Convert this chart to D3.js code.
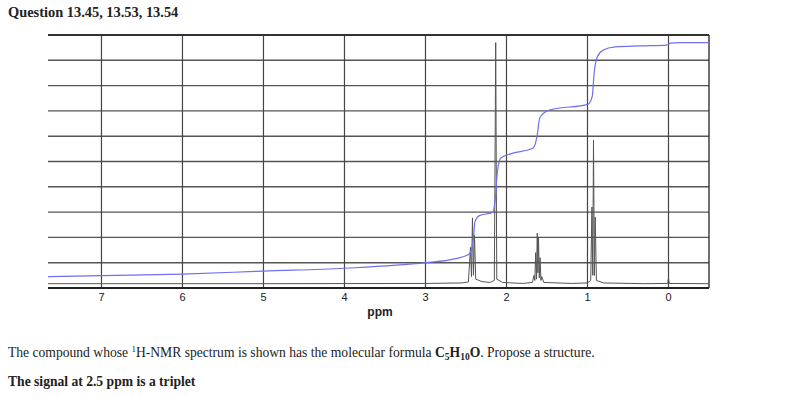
<!DOCTYPE html>
<html>
<head>
<meta charset="utf-8">
<script src="https://cdn.jsdelivr.net/npm/d3@7"></script>
<style>
  body { margin: 0; background: #fff; }
  svg { display: block; }
</style>
</head>
<body>
<svg id="chart" width="796" height="399"></svg>
<script>
// ppm tick labels along the bottom
const ppmTicks = [7, 6, 5, 4, 3, 2, 1, 0]
// horizontal grid rows (in grid units, axis = 0)
const gridRows = [1, 2, 3, 4, 5, 6, 7, 8, 9, 10]

// spectrum trace: [ppm, intensity in grid units]
const spectrum = [
  [7.66, 0.17], [5.0, 0.17], [3.0, 0.18], [2.55, 0.2], [2.47, 0.24],
  [2.445, 1.6], [2.432, 0.45], [2.42, 2.77], [2.408, 0.5], [2.395, 2.1],
  [2.38, 0.35], [2.3, 0.25], [2.2, 0.22], [2.15, 0.3], [2.133, 9.7],
  [2.12, 0.35], [2.05, 0.22], [1.8, 0.18], [1.68, 0.22],
  [1.66, 0.5], [1.65, 0.3], [1.64, 1.4], [1.63, 0.35], [1.62, 2.17],
  [1.612, 0.6], [1.605, 2.0], [1.595, 0.4], [1.585, 1.2], [1.575, 0.3],
  [1.565, 0.45], [1.54, 0.22], [1.2, 0.18], [1.0, 0.2], [0.96, 0.3],
  [0.945, 3.2], [0.935, 0.5], [0.926, 5.85], [0.915, 0.5], [0.905, 2.8],
  [0.89, 0.3], [0.8, 0.2], [0.3, 0.17], [0.01, 0.18], [0.0, 0.4],
  [-0.01, 0.18], [-0.5, 0.17]
]

// integral curve: [ppm, height in grid units]
const integral = [
  [7.66, 0.45], [7.0, 0.49], [6.0, 0.55], [5.0, 0.67], [4.0, 0.78],
  [3.0, 1.0], [2.64, 1.15], [2.46, 1.34], [2.41, 1.9], [2.39, 2.6],
  [2.34, 2.85], [2.17, 3.0], [2.14, 3.48], [2.11, 4.66], [2.07, 5.14],
  [1.95, 5.3], [1.67, 5.53], [1.62, 6.05], [1.59, 6.72], [1.52, 6.96],
  [1.46, 7.04], [0.99, 7.27], [0.94, 7.59], [0.92, 8.42], [0.88, 9.13],
  [0.81, 9.4], [0.66, 9.53], [0.35, 9.57], [0.02, 9.6], [-0.02, 9.68],
  [-0.14, 9.7], [-0.5, 9.7]
]

const svg = d3.select('#chart')

const plot = {left: 48, right: 709, top: 35, bottom: 288}

const x = d3.scaleLinear()
  .domain([7.66, -0.5])
  .range([plot.left, plot.right])

const y = d3.scaleLinear()
  .domain([0, 10])
  .range([plot.bottom, plot.top])

// title
svg.append('text')
  .attr('x', 8)
  .attr('y', 17)
  .style('font-family', '"Liberation Serif", serif')
  .style('font-weight', 'bold')
  .style('font-size', '14.4px')
  .style('fill', '#222')
  .text('Question 13.45, 13.53, 13.54')

// grid
const grid = svg.append('g').classed('grid', true)

grid.selectAll('line.row')
  .data(gridRows.slice(0, -1))
  .enter().append('line')
  .classed('row', true)
  .attr('x1', plot.left)
  .attr('x2', plot.right)
  .attr('y1', d => y(d))
  .attr('y2', d => y(d))
  .style('stroke', '#555')
  .style('stroke-width', 1.4)

grid.selectAll('line.col')
  .data(ppmTicks)
  .enter().append('line')
  .classed('col', true)
  .attr('x1', d => x(d))
  .attr('x2', d => x(d))
  .attr('y1', y(10))
  .attr('y2', y(0))
  .style('stroke', '#444')
  .style('stroke-width', 1.2)

// top line, right border, bottom axis line
grid.append('line')
  .attr('x1', plot.left).attr('x2', plot.right)
  .attr('y1', y(10)).attr('y2', y(10))
  .style('stroke', '#333').style('stroke-width', 2)

grid.append('line')
  .attr('x1', x(-0.5)).attr('x2', x(-0.5))
  .attr('y1', y(10)).attr('y2', y(0))
  .style('stroke', '#333').style('stroke-width', 1.4)

grid.append('line')
  .attr('x1', plot.left).attr('x2', plot.right)
  .attr('y1', y(0)).attr('y2', y(0))
  .style('stroke', '#222').style('stroke-width', 2)

// tick labels
svg.append('g')
  .selectAll('text')
  .data(ppmTicks)
  .enter().append('text')
  .attr('x', d => x(d))
  .attr('y', 301)
  .attr('text-anchor', 'middle')
  .style('font-family', '"Liberation Sans", Arial, sans-serif')
  .style('font-size', '11px')
  .style('fill', '#222')
  .text(d => d)

svg.append('text')
  .attr('x', 380)
  .attr('y', 316)
  .attr('text-anchor', 'middle')
  .style('font-family', '"Liberation Sans", Arial, sans-serif')
  .style('font-weight', 'bold')
  .style('font-size', '12px')
  .style('fill', '#222')
  .text('ppm')

// spectrum trace
const line = d3.line()
  .x(d => x(d[0]))
  .y(d => y(d[1]))

svg.append('path')
  .datum(spectrum)
  .attr('d', line)
  .style('fill', 'none')
  .style('stroke', '#555')
  .style('stroke-width', 1)

// integral curve
svg.append('path')
  .datum(integral)
  .attr('d', line.curve(d3.curveMonotoneX))
  .style('fill', 'none')
  .style('stroke', '#6f6ff0')
  .style('stroke-width', 1.2)

// question text below the chart
const serif = '"Liberation Serif", "Times New Roman", serif'

const t1 = svg.append('text')
  .attr('x', 8)
  .attr('y', 357)
  .style('font-family', serif)
  .style('font-size', '13.6px')
  .style('fill', '#222')
t1.append('tspan').text('The compound whose ')
t1.append('tspan').attr('dy', -5).style('font-size', '9px').text('1')
t1.append('tspan').attr('dy', 5).text('H-NMR spectrum is shown has the molecular formula ')
t1.append('tspan').style('font-weight', 'bold').text('C')
t1.append('tspan').attr('dy', 3).style('font-weight', 'bold').style('font-size', '9.5px').text('5')
t1.append('tspan').attr('dy', -3).style('font-weight', 'bold').text('H')
t1.append('tspan').attr('dy', 3).style('font-weight', 'bold').style('font-size', '9.5px').text('10')
t1.append('tspan').attr('dy', -3).style('font-weight', 'bold').text('O')
t1.append('tspan').text('. Propose a structure.')

svg.append('text')
  .attr('x', 8)
  .attr('y', 386)
  .style('font-family', serif)
  .style('font-weight', 'bold')
  .style('font-size', '13.6px')
  .style('fill', '#222')
  .text('The signal at 2.5 ppm is a triplet')
</script>
</body>
</html>
